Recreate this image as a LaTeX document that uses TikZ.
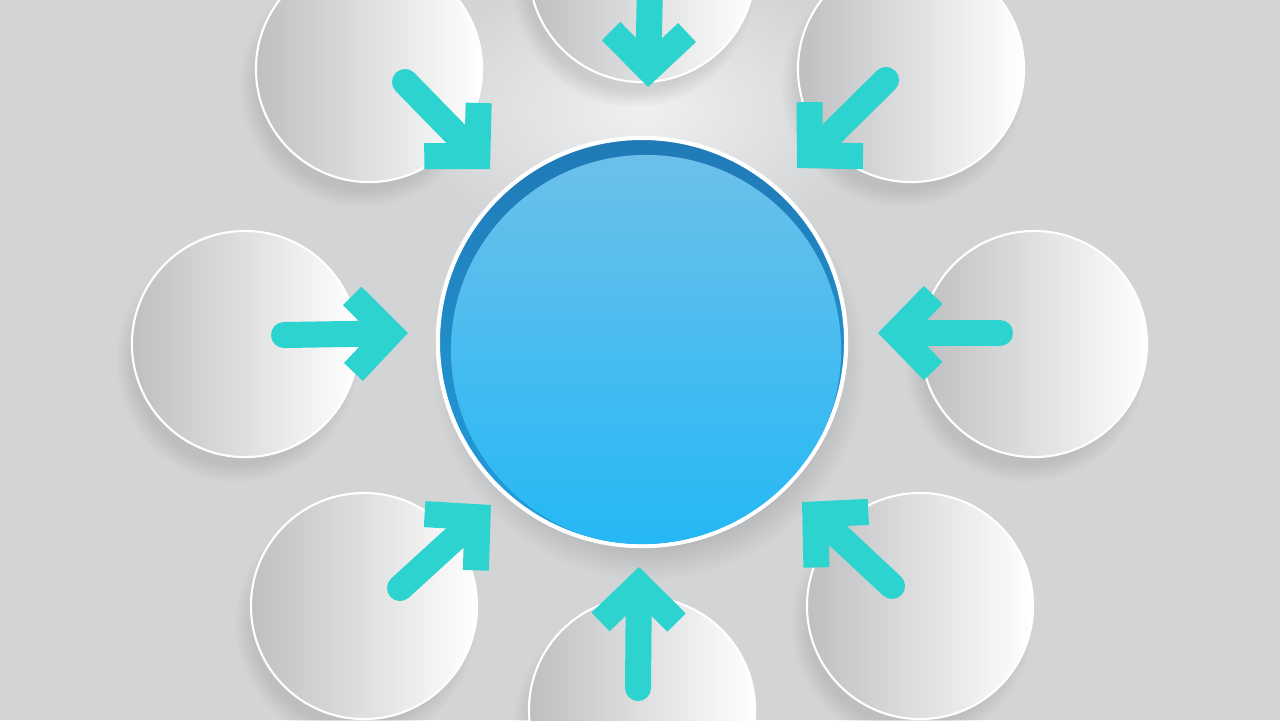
\documentclass[tikz,border=0pt]{standalone}
\usepackage{xcolor}
\usepackage{tikz}
\usetikzlibrary{arrows.meta,shadows}
\definecolor{backgray}{RGB}{210,212,214}
\definecolor{bowlgray}{RGB}{190,191,193}
\definecolor{arrowcyan}{RGB}{45,211,207}
\definecolor{hubrim}{RGB}{32,122,182}
\definecolor{hubdeep}{RGB}{34,158,220}
\definecolor{hubtop}{RGB}{108,192,234}
\definecolor{hubbot}{RGB}{36,184,245}

\begin{document}
\begin{tikzpicture}[x=0.01cm,y=-0.01cm,
  bowl/.style={circle,draw=white,line width=0.6pt,minimum size=2.26cm,inner sep=0pt,
    left color=bowlgray,right color=white,
    circular drop shadow={shadow xshift=-0.08cm,shadow yshift=-0.16cm,opacity=0.25,shadow scale=1.07}},
  hub/.style={circle,draw=white,line width=1.2pt,minimum size=4.08cm,inner sep=0pt,
    top color=hubrim,bottom color=hubdeep,
    circular drop shadow={shadow xshift=0.06cm,shadow yshift=-0.2cm,opacity=0.3,shadow scale=1.06}},
  inarrow/.style={draw=arrowcyan,line width=7.4pt,line cap=round,
    -{Straight Barb[length=0.37cm,width=0.76cm]}}]

\fill[backgray] (0,0) rectangle (1280,720);
\useasboundingbox (0,0) rectangle (1280,720);
\clip (0,0) rectangle (1280,720);
\shade[inner color=white!65!backgray,outer color=backgray] (642,110) ellipse[x radius=2.4cm,y radius=1.4cm];

\node[bowl] (T) at (642,-31) {};
\node[bowl] (TL) at (369,69) {};
\node[bowl] (TR) at (911,69) {};
\node[bowl] (L) at (245,344) {};
\node[bowl] (R) at (1034,344) {};
\node[bowl] (BL) at (364,606) {};
\node[bowl] (BR) at (920,606) {};
\node[bowl] (B) at (642,710) {};

\node[hub] (hub) at (642,342) {};
\begin{scope}
\clip (hub.center) circle[radius=2.02cm];
\shade[top color=hubtop,bottom color=hubbot] ([xshift=0.04cm,yshift=-0.08cm]hub.center) circle[radius=1.95cm];
\end{scope}

\coordinate (t1) at (650,-20);  \coordinate (t2) at (648,87);
\coordinate (tl1) at (405,82);  \coordinate (tl2) at (490,169);
\coordinate (tr1) at (886,80);  \coordinate (tr2) at (797,168);
\coordinate (l1) at (284,335);  \coordinate (l2) at (408,333);
\coordinate (r1) at (1000,333); \coordinate (r2) at (878,333);
\coordinate (bl1) at (400,588); \coordinate (bl2) at (491,505);
\coordinate (br1) at (892,586); \coordinate (br2) at (802,502);
\coordinate (b1) at (638,688);  \coordinate (b2) at (639,567);

\foreach \a in {t,tl,tr,l,r,bl,br,b}
  \draw[inarrow] (\a1) -- (\a2);

\end{tikzpicture}
\end{document}
